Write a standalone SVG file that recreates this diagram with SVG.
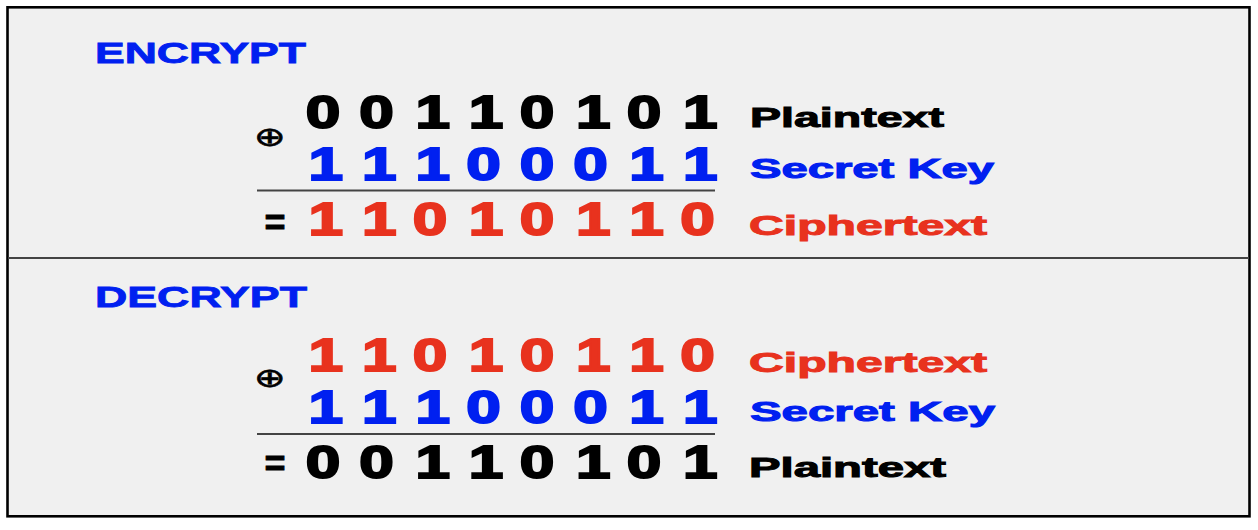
<svg xmlns="http://www.w3.org/2000/svg" width="1258" height="530" viewBox="0 0 1258 530">
<style>
.bg{fill:#f0f0f0;stroke:#000;stroke-width:2.6}
.rule{stroke:#444;stroke-width:2.2}
.head{font-family:"Liberation Sans",Arial,sans-serif;font-weight:bold;font-size:30px;fill:#0020f0;stroke:#0020f0;stroke-width:0.8}
.d{font-family:"Liberation Sans",Arial,sans-serif;font-weight:bold;font-size:46px;text-anchor:middle;stroke-width:2}
.lab{font-family:"Liberation Sans",Arial,sans-serif;font-weight:bold;font-size:28px;stroke-width:1}
.op{font-family:"DejaVu Sans",sans-serif;font-size:27px;text-anchor:middle;fill:#000;stroke:#000;stroke-width:0.6}
.eq{font-family:"Liberation Sans",Arial,sans-serif;font-weight:bold;font-size:36px;text-anchor:middle;fill:#000;stroke:#000;stroke-width:0.8}
.k{fill:#000;stroke:#000}
.b{fill:#0020f0;stroke:#0020f0}
.r{fill:#e8321e;stroke:#e8321e}
</style>
<rect class="bg" x="7.5" y="7.3" width="1242" height="509"/>
<g id="connectors">
<line class="rule" x1="8" y1="258" x2="1249" y2="258"/>
<line class="rule" x1="257" y1="190.5" x2="715" y2="190.5"/>
<line class="rule" x1="257" y1="434" x2="715" y2="434"/>
</g>
<g id="encrypt">
<text class="head" x="95" y="63" textLength="211" lengthAdjust="spacingAndGlyphs">ENCRYPT</text>
<text class="d k" transform="scale(1.35 1)" y="128" x="239.3 278.9 320.5 360.1 397.8 439.4 477 518.7">00110101</text>
<text class="op" transform="scale(1.4 1)" x="192.9" y="146">⊕</text>
<text class="d b" transform="scale(1.35 1)" y="180" x="241.3 280.9 320.5 358.2 397.8 437.4 479 518.7">11100011</text>
<text class="eq" x="275" y="235">=</text>
<text class="d r" transform="scale(1.35 1)" y="235" x="241.3 280.9 318.5 360.1 397.8 439.4 479 516.7">11010110</text>
<text class="lab k" x="750" y="127" textLength="194" lengthAdjust="spacingAndGlyphs">Plaintext</text>
<text class="lab b" x="750" y="178" textLength="244" lengthAdjust="spacingAndGlyphs">Secret Key</text>
<text class="lab r" x="749" y="235" textLength="238" lengthAdjust="spacingAndGlyphs">Ciphertext</text>
</g>
<g id="decrypt">
<text class="head" x="95" y="307" textLength="212" lengthAdjust="spacingAndGlyphs">DECRYPT</text>
<text class="d r" transform="scale(1.35 1)" y="371" x="241.3 280.9 318.5 360.1 397.8 439.4 479 516.7">11010110</text>
<text class="op" transform="scale(1.4 1)" x="192.9" y="387">⊕</text>
<text class="d b" transform="scale(1.35 1)" y="423" x="241.3 280.9 320.5 358.2 397.8 437.4 479 518.7">11100011</text>
<text class="eq" x="275" y="476">=</text>
<text class="d k" transform="scale(1.35 1)" y="478" x="239.3 278.9 320.5 360.1 397.8 439.4 477 518.7">00110101</text>
<text class="lab r" x="749" y="372" textLength="238" lengthAdjust="spacingAndGlyphs">Ciphertext</text>
<text class="lab b" x="750" y="421" textLength="245" lengthAdjust="spacingAndGlyphs">Secret Key</text>
<text class="lab k" x="749" y="477" textLength="197" lengthAdjust="spacingAndGlyphs">Plaintext</text>
</g>
</svg>
